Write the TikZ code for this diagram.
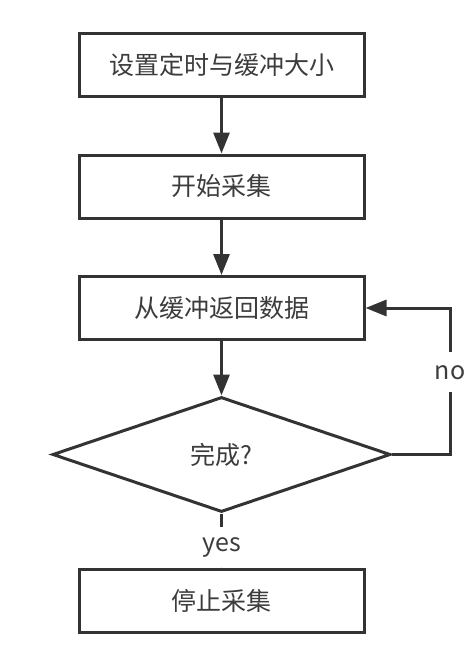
\documentclass[tikz,border=0pt]{standalone}
\usepackage{fontspec}
\setmainfont{Noto Sans CJK SC}
\usetikzlibrary{shapes.geometric,arrows.meta}

\definecolor{linegray}{HTML}{333333}
\definecolor{textgray}{HTML}{3C3C3C}

\begin{document}
\begin{tikzpicture}[x=1pt,y=-1pt,
    box/.style={draw=linegray,line width=3pt,minimum width=285pt,minimum height=63pt,
                inner sep=0pt,text=textgray,font=\fontsize{25}{29}\selectfont},
    decision/.style={diamond,draw=linegray,line width=3pt,minimum width=338pt,
                     minimum height=115pt,inner sep=0pt,text=textgray,
                     font=\fontsize{25}{29}\selectfont},
    flow/.style={draw=linegray,line width=3pt,-{Triangle[length=21pt,width=16pt]}},
    tag/.style={fill=white,inner sep=2pt,minimum height=40pt,text=textgray,
                font=\fontsize{25}{29}\selectfont}]
  % 画布大小
  \useasboundingbox (0,0) rectangle (474,656);

  % 流程框
  \node[box] (setup) at (221.5,64.5) {设置定时与缓冲大小};
  \node[box] (start) at (221.5,186.5) {开始采集};
  \node[box] (fetch) at (221.5,308) {从缓冲返回数据};
  \node[decision] (done) at (221.5,454.5) {完成?};
  \node[box] (stop) at (221.5,600.5) {停止采集};

  % 回路的拐点
  \coordinate (loop) at (450,308);

  % 连线
  \draw[flow] (setup) -- (start);
  \draw[flow] (start) -- (fetch);
  \draw[flow] (fetch) -- (done);
  \draw[flow] (done.east) -| (loop) node[tag,pos=0.78] (no) {no} -- (fetch.east);
  \draw[flow] (done.south) -- (stop.north) node[tag,pos=0.62] (yes) {yes};
\end{tikzpicture}
\end{document}
